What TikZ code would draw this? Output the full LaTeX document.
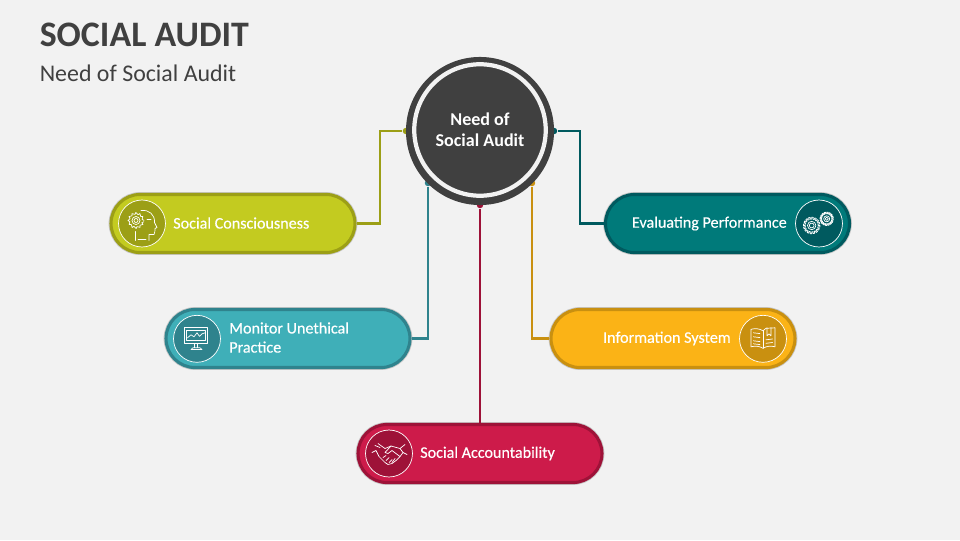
\documentclass[tikz,border=0pt]{standalone}
\usepackage{fontspec}
\setmainfont{Carlito}
\newfontfamily\pillfont[FakeBold=0.35]{Carlito}
\usetikzlibrary{shapes.misc}
\definecolor{pagegray}{HTML}{F2F2F2}
\definecolor{hubdark}{HTML}{404040}
\definecolor{limefill}{HTML}{C3CB20}
\definecolor{limedark}{HTML}{9C9F16}
\definecolor{aquafill}{HTML}{3FAFB8}
\definecolor{aquadark}{HTML}{2F838D}
\definecolor{tealfill}{HTML}{007A7A}
\definecolor{tealdark}{HTML}{005A5F}
\definecolor{goldfill}{HTML}{FBB316}
\definecolor{golddark}{HTML}{C99010}
\definecolor{redfill}{HTML}{CD1B4A}
\definecolor{reddark}{HTML}{9E1238}
\tikzset{
	pill/.style={rounded rectangle,minimum width=173.5pt,minimum height=41.3pt,line width=2.2pt,inner sep=0pt,
		preaction={draw=black!22,line width=3.4pt}},
	pilltext/.style={text=white,font=\pillfont\fontsize{11.45}{13.6}\selectfont,align=left,inner sep=0pt},
	iconring/.style={circle,draw=white,line width=0.5pt,minimum size=33.4pt,inner sep=0pt},
	iconline/.style={draw=white,line width=0.5pt,line join=round,line cap=round},
	conn/.style={line width=1.5pt},
	dot/.style={circle,minimum size=4.6pt,inner sep=0pt},
}
\begin{document}
\begin{tikzpicture}[x=0.025cm,y=-0.025cm]
	\fill[pagegray] (0,0) rectangle (960,540);
	\useasboundingbox (0,0) rectangle (960,540);

	\node[anchor=base west,inner sep=0pt,text=hubdark,font=\fontsize{25.5}{30}\selectfont\bfseries] (title) at (39.5,46.5) {SOCIAL AUDIT};
	\node[anchor=base west,inner sep=0pt,text=hubdark,font=\fontsize{17}{20}\selectfont] (subtitle) at (39.5,81) {Need of Social Audit};

	\node[pill,fill=limefill,draw=limedark] (pillConsc) at (233,223.5) {};
	\node[pill,fill=aquafill,draw=aquadark] (pillMonitor) at (288,338.5) {};
	\node[pill,fill=tealfill,draw=tealdark] (pillEval) at (727.5,223.5) {};
	\node[pill,fill=goldfill,draw=golddark] (pillInfo) at (673,338.5) {};
	\node[pill,fill=redfill,draw=reddark] (pillAcc) at (480,453.5) {};

	\node[dot,fill=limedark] (dotConsc) at (406,131) {};
	\node[dot,fill=aquadark] (dotMonitor) at (428,183) {};
	\node[dot,fill=tealdark] (dotEval) at (554,131) {};
	\node[dot,fill=golddark] (dotInfo) at (532,183) {};
	\node[dot,fill=reddark] (dotAcc) at (480,205) {};

	\coordinate (bendConsc) at (380,131);
	\coordinate (bendEval) at (580,131);
	\draw[conn,limedark] (pillConsc.east) -| (bendConsc) -- (dotConsc);
	\draw[conn,aquadark] (pillMonitor.east) -| (dotMonitor);
	\draw[conn,tealdark] (pillEval.west) -| (bendEval) -- (dotEval);
	\draw[conn,golddark] (pillInfo.west) -| (dotInfo);
	\draw[conn,reddark] (pillAcc.north) -- (dotAcc);

	\node[circle,fill=hubdark,minimum size=105.3pt,inner sep=0pt] (hubOuter) at (480,131) {};
	\node[circle,fill=hubdark,draw=pagegray,line width=3pt,minimum size=93.5pt,inner sep=0pt,text=white,align=center,
		font=\fontsize{12.85}{15.1}\selectfont\bfseries] (hub) at (480,130) {Need of\\Social Audit};

	\node[iconring,fill=limedark] (iconConsc) at (142,223.5) {};
	\node[iconring,fill=aquadark] (iconMonitor) at (197,338.8) {};
	\node[iconring,fill=tealdark] (iconEval) at (819,223.5) {};
	\node[iconring,fill=golddark] (iconInfo) at (763,338.8) {};
	\node[iconring,fill=reddark] (iconAcc) at (389,453.5) {};

	\node[pilltext,anchor=west] (textConsc) at (173,223) {Social Consciousness};
	\node[pilltext,anchor=west] (textMonitor) at (229,337.5) {Monitor Unethical\\Practice};
	\node[pilltext,anchor=east] (textEval) at (787,223.5) {Evaluating Performance};
	\node[pilltext,anchor=east] (textInfo) at (731,338.5) {Information System};
	\node[pilltext,anchor=west] (textAcc) at (420,453.5) {Social Accountability};

	\begin{scope}[shift={(142,223.5)}]
		\draw[iconline] (7,17) -- (7,11) -- (12,11) .. controls (13.5,9) and (12.5,7) .. (13,5) -- (15,4) -- (12.5,-1)
			.. controls (13,-9) and (7,-14) .. (-1,-13);
		\draw[iconline] (-7,8) -- (-7,17);
		\draw[iconline] (-4,16) -- (4,16);
		\draw[iconline] (5,-4) -- (9,-4);
		\draw[iconline] (-6,-3) ++(9:8) \foreach \a in {30,60,...,360} { -- ([shift={(-6,-3)}]\a-10:6.2) -- ([shift={(-6,-3)}]\a+9-10:8) } ;
		\draw[iconline] (-6,-3) circle (4);
		\draw[iconline] (-6,-3) circle (2);
	\end{scope}

	\begin{scope}[shift={(197,338.8)}]
		\draw[iconline] (-12.7,-11.3) rectangle (10.7,4.7);
		\draw[iconline] (-10.3,-8.7) rectangle (8.3,2);
		\draw[iconline] (-9.5,-1) -- (-6,-4) -- (-3,-2) -- (0,-6) -- (2.5,-2.5) -- (5,-5) -- (8,-6);
		\draw[iconline] (-2.5,4.7) -- (-2.5,9) (0.5,4.7) -- (0.5,9);
		\draw[iconline] (-6,10.7) -- (5,10.7) -- (3,9) -- (-4,9) -- cycle;
	\end{scope}

	\begin{scope}[shift={(819,223.5)}]
		\draw[iconline] (-7.3,2) ++(0:8.3) \foreach \a in {22.5,45,...,360} { -- ([shift={(-7.3,2)}]\a-11:8.3) -- ([shift={(-7.3,2)}]\a-11:6.4) -- ([shift={(-7.3,2)}]\a:6.4) -- ([shift={(-7.3,2)}]\a:8.3) };
		\draw[iconline] (-7.3,2) circle (4.2);
		\draw[iconline] (-7.3,2) circle (2.4);
		\draw[iconline] (7.7,-4.7) ++(0:6.7) \foreach \a in {22.5,45,...,360} { -- ([shift={(7.7,-4.7)}]\a-11:6.7) -- ([shift={(7.7,-4.7)}]\a-11:5) -- ([shift={(7.7,-4.7)}]\a:5) -- ([shift={(7.7,-4.7)}]\a:6.7) };
		\draw[iconline] (7.7,-4.7) circle (3);
		\draw[iconline] (7.7,-4.7) circle (1.6);
	\end{scope}

	\begin{scope}[shift={(763,338.8)}]
		\draw[iconline] (0,-8) .. controls (-4,-10.5) and (-8,-10.5) .. (-12,-9.5) -- (-12,8) .. controls (-8,7) and (-4,7) .. (0,9.5)
			.. controls (4,7) and (8,7) .. (12,8) -- (12,-11) -- (3,-10.5) .. controls (2,-10) and (1,-9) .. (0,-8) -- cycle;
		\draw[iconline] (0,-8) -- (0,9.5);
		\draw[iconline] (4,-11) -- (4,-3) -- (6,-5) -- (8,-3) -- (8,-11);
		\foreach \y in {-6,-2,2,5} {
			\draw[iconline] (-9.5,\y) -- (-3,\y+0.8);
		}
		\foreach \y in {1,4.5} {
			\draw[iconline] (3,\y) -- (9.5,\y-0.8);
		}
	\end{scope}

	\begin{scope}[shift={(389,453.5)}]
		\draw[iconline] (-11,-10) -- (-4,-5) -- (2,-7.5) -- (11,-5) -- (16,-9);
		\draw[iconline] (-17,-1) -- (-13,-3) -- (-10,3) -- (-4,9) -- (-1,11) -- (3,10) -- (7,7) -- (11,3) -- (14,-1) -- (18,1);
		\draw[iconline] (11,-5) -- (14,-1);
		\draw[iconline] (2,-7.5) -- (-4,-1) -- (-1,0) -- (3,-3) -- (11,3);
		\draw[iconline] (-6,4) -- (-3,2) (-3,7) -- (0,4) (0,9) -- (3,6) (3,9) -- (6,5);
		\draw[iconline] (-14,-8) -- (-9,-6);
	\end{scope}
\end{tikzpicture}
\end{document}
